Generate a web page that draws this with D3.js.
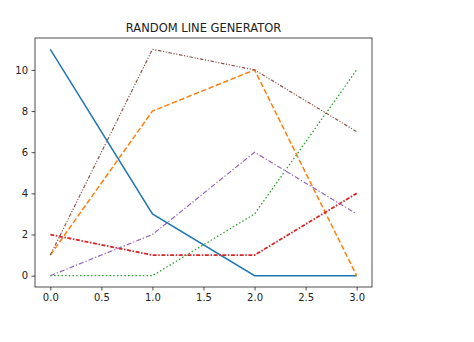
<!DOCTYPE html>
<head>
<meta charset="utf-8">
<title>Random line generator</title>
<script src="https://d3js.org/d3.v7.min.js"></script>
<style>
  body { margin: 0; background: white; }
  text { font-family: "DejaVu Sans", sans-serif; fill: #222; }
</style>
</head>
<body>
<div id="chart"></div>
<script>
// x positions and the six random series
var xValues = [0, 1, 2, 3];
var blueLine   = [11, 3, 0, 0];
var orangeLine = [1, 8, 10, 0];
var greenLine  = [0, 0, 3, 10];
var redLine    = [2, 1, 1, 4];
var purpleLine = [0, 2, 6, 3];
var brownLine  = [1, 11, 10, 7];
var xTicks = [0, 0.5, 1, 1.5, 2, 2.5, 3];
var yTicks = [0, 2, 4, 6, 8, 10];

var width = 474, height = 342;
var plotLeft = 35, plotRight = 372, plotTop = 38, plotBottom = 287;

var svg = d3.select("#chart").append("svg")
  .attr("width", width)
  .attr("height", height);

var x = d3.scaleLinear().domain([-0.15, 3.15]).range([plotLeft, plotRight]);
var y = d3.scaleLinear().domain([-0.55, 11.55]).range([plotBottom, plotTop]);

// series list with their line styles
var series = [
  {values: blueLine,   color: "#1f77b4", width: 1.5, dash: null},
  {values: orangeLine, color: "#ff7f0e", width: 1.5, dash: "5.5,2.4"},
  {values: greenLine,  color: "#2ca02c", width: 1.3, dash: "1.5,2.2"},
  {values: redLine,    color: "#d62728", width: 1.8, dash: "4,1.6,1.5,1.6"},
  {values: purpleLine, color: "#9467bd", width: 1.2, dash: "5,2,1.3,2"},
  {values: brownLine,  color: "#8c564b", width: 1.2, dash: "3.5,1.6,1.2,1.6,1.2,1.6"}
];

var line = d3.line()
  .x(function(d, i) { return x(xValues[i]); })
  .y(function(d) { return y(d); });

svg.selectAll(".series").data(series).enter().append("path")
  .attr("class", "series")
  .attr("d", function(s) { return line(s.values); })
  .attr("fill", "none")
  .attr("stroke", function(s) { return s.color; })
  .attr("stroke-width", function(s) { return s.width; })
  .attr("stroke-dasharray", function(s) { return s.dash; });

// axes
var xAxis = d3.axisBottom(x).tickValues(xTicks).tickFormat(d3.format(".1f")).tickSize(3.5).tickPadding(3.5);
var yAxis = d3.axisLeft(y).tickValues(yTicks).tickFormat(d3.format("d")).tickSize(3.5).tickPadding(3.5);

var gx = svg.append("g").attr("transform", "translate(0," + plotBottom + ")").call(xAxis);
var gy = svg.append("g").attr("transform", "translate(" + plotLeft + ",0)").call(yAxis);
[gx, gy].forEach(function(g) {
  g.select(".domain").remove();
  g.selectAll("line").attr("stroke", "#222").attr("stroke-width", 0.8);
  g.selectAll("text").style("font-size", "10px").style("font-family", "DejaVu Sans, sans-serif").attr("fill", "#222");
});

// frame
svg.append("rect")
  .attr("x", plotLeft).attr("y", plotTop)
  .attr("width", plotRight - plotLeft).attr("height", plotBottom - plotTop)
  .attr("fill", "none").attr("stroke", "#222").attr("stroke-width", 0.8);

svg.append("text")
  .attr("x", (plotLeft + plotRight) / 2)
  .attr("y", plotTop - 6)
  .attr("text-anchor", "middle")
  .style("font-size", "11.5px")
  .text("RANDOM LINE GENERATOR");
</script>
</body>
